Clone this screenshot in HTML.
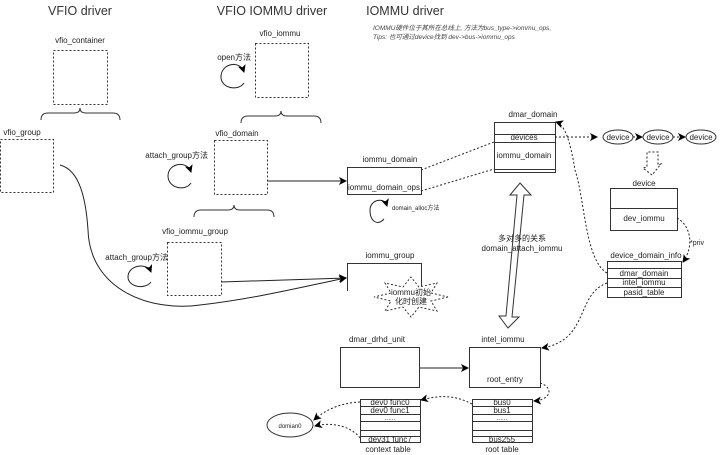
<!DOCTYPE html>
<html><head><meta charset="utf-8"><style>html,body{margin:0;padding:0;background:#fff}svg{display:block}text{font-family:"Liberation Sans","Noto Sans CJK SC",sans-serif;fill:#222}</style></head><body>
<svg width="720" height="455" viewBox="0 0 720 455" xmlns="http://www.w3.org/2000/svg">
<defs>
<marker id="a" markerWidth="8" markerHeight="8" refX="7" refY="4" orient="auto" markerUnits="userSpaceOnUse"><path d="M0,0 L8,4 L0,8 L2,4 z" fill="#000"/></marker>
</defs>
<g font-size="12.5" text-anchor="middle" fill="#333">
<text x="80" y="15" style="fill:#333">VFIO driver</text>
<text x="272" y="15" style="fill:#333">VFIO IOMMU driver</text>
<text x="405" y="15" style="fill:#333">IOMMU driver</text>
</g>
<g font-size="6.5" font-style="italic">
<text x="373" y="30" style="fill:#444">IOMMU硬件位于其所在总线上, 方法为bus_type-&gt;iommu_ops,</text>
<text x="373" y="39" style="fill:#444">Tips: 也可通过device找到 dev-&gt;bus-&gt;iommu_ops</text>
</g>
<g font-size="8" text-anchor="middle">
<text x="80" y="43">vfio_container</text>
<text x="22" y="135">vfio_group</text>
<text x="280" y="36">vfio_iommu</text>
<text x="237" y="136">vfio_domain</text>
<text x="195" y="234">vfio_iommu_group</text>
<text x="390" y="162">iommu_domain</text>
<text x="533" y="117">dmar_domain</text>
<text x="644" y="186">device</text>
<text x="646" y="258">device_domain_info</text>
<text x="390" y="258">iommu_group</text>
<text x="377" y="342">dmar_drhd_unit</text>
<text x="503" y="342">intel_iommu</text>
<text x="502" y="452">root table</text>
<text x="388" y="452">context table</text>
</g>
<g font-size="8" text-anchor="end">
<text x="251" y="60">open方法</text>
<text x="208" y="158">attach_group方法</text>
<text x="168" y="260">attach_group方法</text>
</g>
<g fill="none" stroke="#333" stroke-width="1" stroke-dasharray="2,2">
<rect x="53.5" y="50.5" width="54" height="54"/>
<rect x="0.5" y="139.5" width="53" height="53"/>
<rect x="255.5" y="43.5" width="53" height="54"/>
<rect x="214.5" y="140.5" width="53" height="54"/>
<rect x="167.5" y="242.5" width="54" height="53"/>
</g>
<g fill="none" stroke="#333" stroke-width="1">
<path d="M41,120 Q41,113 48,113 L74,113 Q80,113 80,108 Q80,113 86,113 L113,113 Q120,113 120,120"/>
<path d="M241,123 Q241,116 248,116 L275,116 Q281,116 281,111 Q281,116 287,116 L314,116 Q321,116 321,123"/>
<path d="M194,217 Q194,210 201,210 L228,210 Q234,210 234,205 Q234,210 240,210 L267,210 Q274,210 274,217"/>
</g>
<g fill="none" stroke="#222" stroke-width="1">
<path d="M244,83 C238,92 220,88 221,76 C222,63 240,60 244,72" marker-end="url(#a)"/>
<path d="M191,183 C185,192 168,188 168,176 C168,163 187,160 191,172" marker-end="url(#a)"/>
<path d="M151,282 C145,290 128,287 128,277 C128,265 147,262 151,272" marker-end="url(#a)"/>
<path d="M384,219 C378,226 370,222 370,210 C370,200 384,196 387,206" marker-end="url(#a)"/>
<path d="M267,181 L346,181" marker-end="url(#a)"/>
<path d="M221,282 L346,278" marker-end="url(#a)"/>
<path d="M60,165 C80,170 86,200 88,230 C90,290 150,312 200,305 C260,298 310,285 346,278" marker-end="url(#a)"/>
<path d="M419,368 L468,368" marker-end="url(#a)"/>
</g>
<text x="392" y="210" font-size="6">domain_alloc方法</text>
<g fill="#fff" stroke="#333" stroke-width="1">
<rect x="347.5" y="167.5" width="74" height="27"/>
<rect x="494.5" y="122.5" width="61" height="50"/>
<line x1="494" y1="134.5" x2="555" y2="134.5"/>
<line x1="494" y1="142.5" x2="555" y2="142.5"/>
<line x1="494" y1="169.5" x2="555" y2="169.5"/>
<rect x="610.5" y="188.5" width="67" height="42"/>
<line x1="610" y1="208.5" x2="677" y2="208.5"/>
<rect x="607.5" y="261.5" width="74" height="36"/>
<line x1="607" y1="268.5" x2="681" y2="268.5"/>
<line x1="607" y1="278.5" x2="681" y2="278.5"/>
<line x1="607" y1="287.5" x2="681" y2="287.5"/>
<path d="M347.5,291 L347.5,263.5 L421.5,263.5 L421.5,291" fill="none"/>
<rect x="340.5" y="347.5" width="79" height="40"/>
<rect x="469.5" y="347.5" width="71" height="40"/>
<rect x="472.5" y="399.5" width="60" height="43"/>
<rect x="360.5" y="399.5" width="60" height="43"/>
<ellipse cx="618" cy="137" rx="15" ry="7"/>
<ellipse cx="658" cy="137" rx="15" ry="7"/>
<ellipse cx="701" cy="137" rx="15" ry="7"/>
<ellipse cx="290" cy="425" rx="23" ry="12"/>
</g>
<g stroke="#333" stroke-width="1">
<line x1="472" y1="406.5" x2="532" y2="406.5"/><line x1="472" y1="414.5" x2="532" y2="414.5"/><line x1="472" y1="421.5" x2="532" y2="421.5"/><line x1="472" y1="430.5" x2="532" y2="430.5"/><line x1="472" y1="436.5" x2="532" y2="436.5"/>
<line x1="360" y1="406.5" x2="420" y2="406.5"/><line x1="360" y1="414.5" x2="420" y2="414.5"/><line x1="360" y1="421.5" x2="420" y2="421.5"/><line x1="360" y1="430.5" x2="420" y2="430.5"/><line x1="360" y1="436.5" x2="420" y2="436.5"/>
</g>
<polygon points="448,297 431,301 437,311 419,307 411,317 403,307 385,311 391,301 374,297 391,293 385,283 403,287 411,277 419,287 437,283 431,293" fill="#fff" stroke="#333" stroke-dasharray="2,2"/>
<g font-size="8" text-anchor="middle">
<text x="411" y="295">iommu初始</text><text x="411" y="304">化时创建</text>
<text x="384" y="190">iommu_domain_ops</text>
<text x="524" y="140">devices</text>
<text x="524" y="158">iommu_domain</text>
<text x="618" y="140">device</text>
<text x="658" y="140">device</text>
<text x="701" y="140">device</text>
<text x="644" y="221">dev_iommu</text>
<text x="644" y="276">dmar_domain</text>
<text x="644" y="285">intel_iommu</text>
<text x="644" y="295">pasid_table</text>
<text x="505" y="382">root_entry</text>
<text x="502" y="405">bus0</text><text x="502" y="413">bus1</text><text x="502" y="420" font-size="6">......</text><text x="502" y="442">bus255</text>
<text x="390" y="405">dev0 func0</text><text x="390" y="413">dev0 func1</text><text x="390" y="420" font-size="6">......</text><text x="390" y="442">dev31 func7</text>
<text x="290" y="428" font-size="6">domian0</text>
<text x="690" y="245" text-anchor="start" font-size="7">*priv</text>
</g>
<g fill="none" stroke="#222" stroke-width="1" stroke-dasharray="2,2">
<path d="M421,170 L494,142"/>
<path d="M421,191 L494,169"/>
<path d="M555,137 L597,137" marker-end="url(#a)"/>
<path d="M633,137 L642,137" marker-end="url(#a)"/>
<path d="M673,137 L685,137" marker-end="url(#a)"/>
<path d="M677,218 C690,225 695,245 683,262" marker-end="url(#a)"/>
<path d="M607,273 C585,260 585,200 575,170 C570,140 565,125 556,122" marker-end="url(#a)"/>
<path d="M607,283 C575,295 590,340 542,348" marker-end="url(#a)"/>
<path d="M540,383 C555,388 550,400 534,401" marker-end="url(#a)"/>
<path d="M472,404 C455,395 440,395 421,400" marker-end="url(#a)"/>
<path d="M360,402 C340,403 325,410 314,420" marker-end="url(#a)"/>
<path d="M360,438 C350,425 330,422 315,426" marker-end="url(#a)"/>
<polygon points="652,175 643,168 647,167 647,152 658,152 658,165 661,164"/>
</g>
<polygon points="520,183 531,195 524,195 512,317 519,317 508,328 499,316 506,316 517,195 510,195" fill="#fff" stroke="#333"/>
<g font-size="8" text-anchor="middle">
<text x="522" y="241">多对多的关系</text>
<text x="522" y="251">domain_attach_iommu</text>
</g>
</svg>
</body></html>
